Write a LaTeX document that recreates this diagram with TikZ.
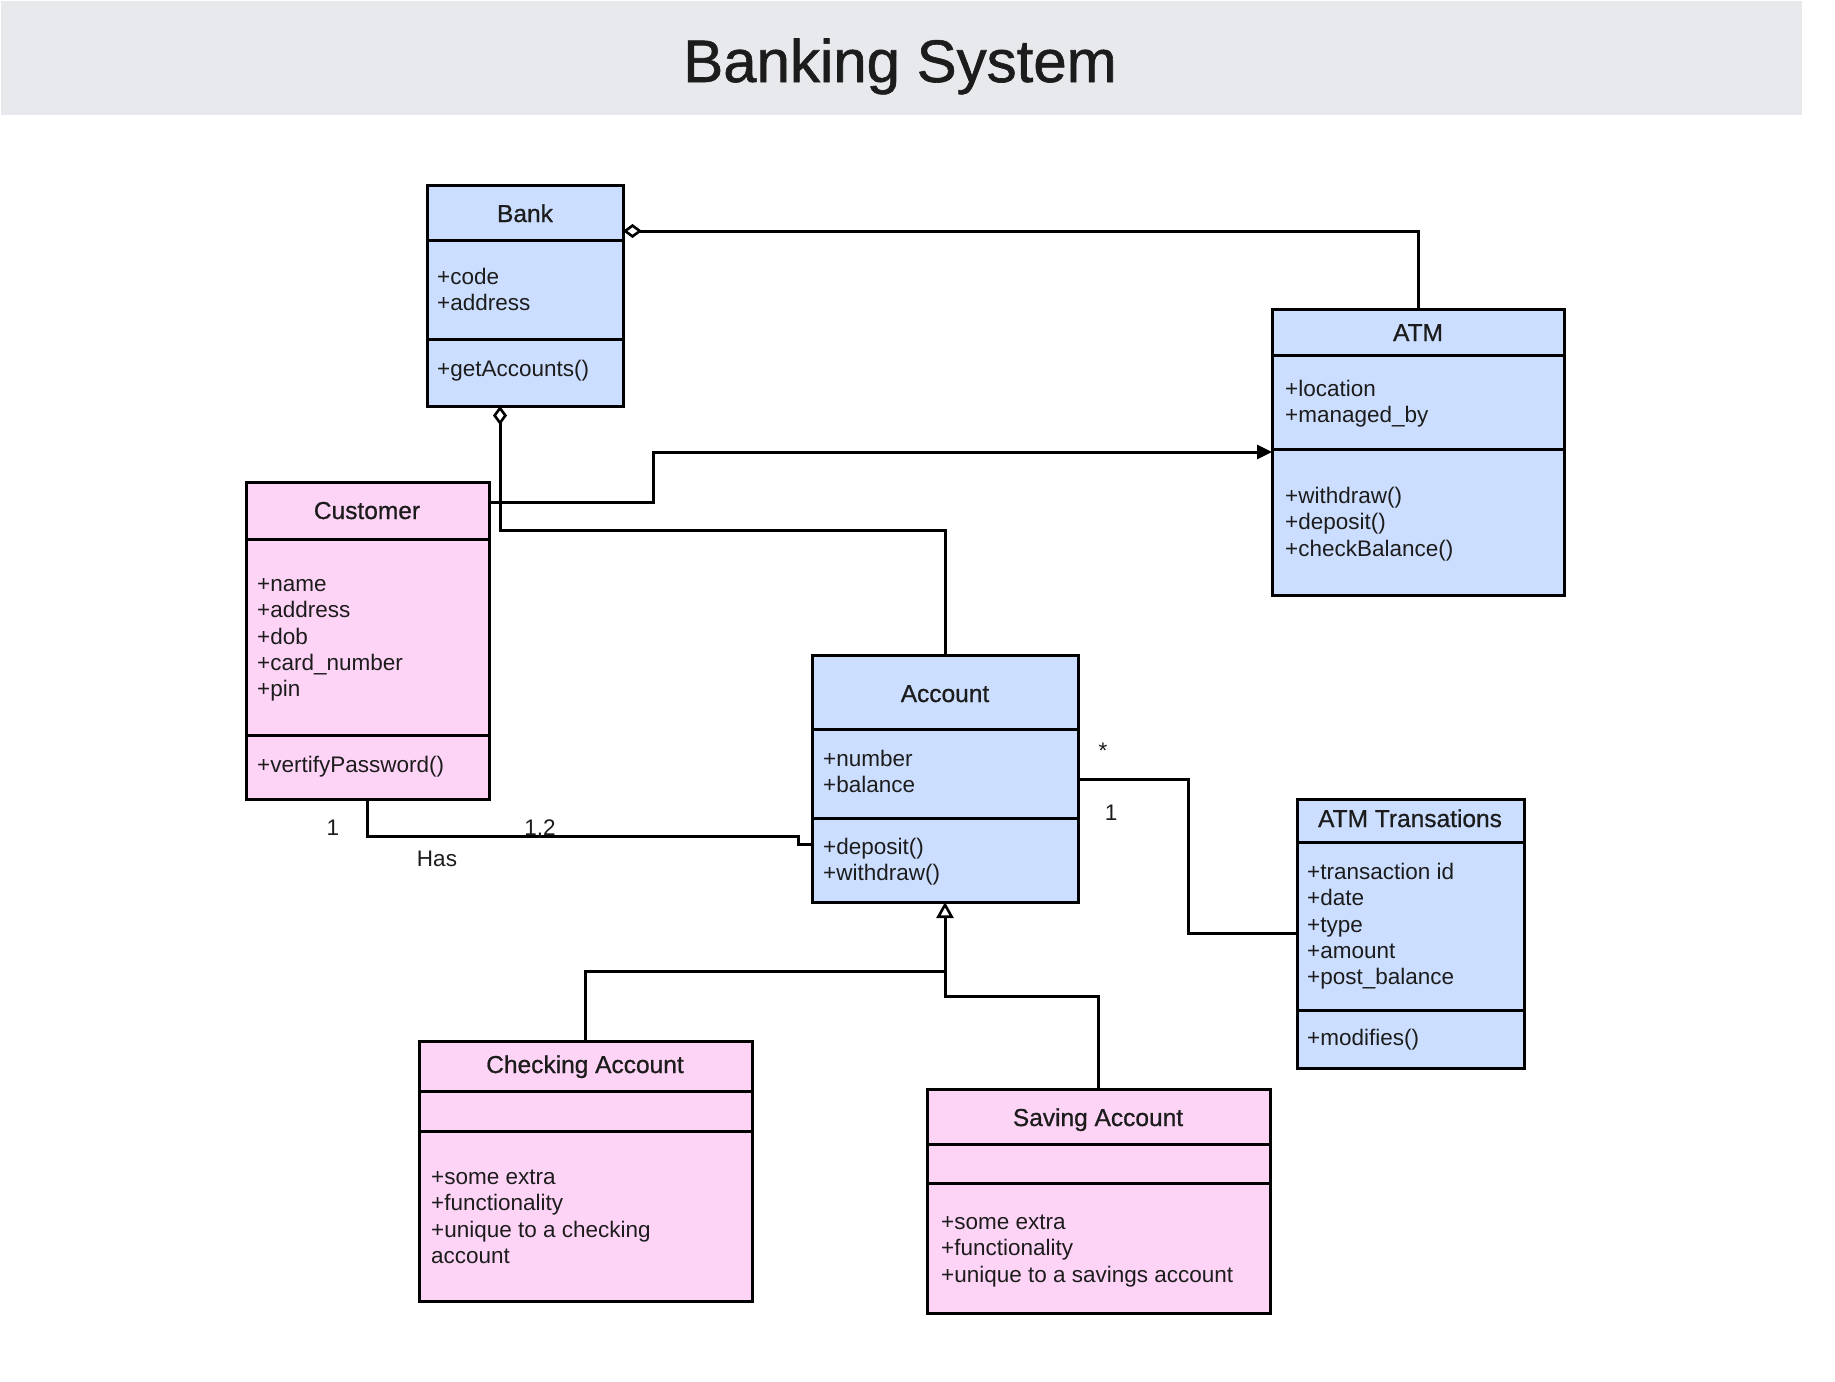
\documentclass[tikz,border=0pt]{standalone}
\usepackage{fontspec}
\setmainfont{Liberation Sans}
\usetikzlibrary{arrows.meta}
\definecolor{clsblue}{RGB}{204,222,255}
\definecolor{clspink}{RGB}{254,212,246}
\definecolor{band}{RGB}{232,233,237}
\definecolor{txt}{RGB}{28,28,28}
\newcommand\bodyf{\fontsize{22.5}{26.4}\selectfont}
\newcommand\headf{\fontsize{24.5}{30}\selectfont\addfontfeature{FakeBold=0.8}}
\newcommand\fl{\rule{0pt}{17pt}}
\begin{document}
\begin{tikzpicture}[x=1pt,y=-1pt,
  cls/.style={draw=black, line width=3pt, inner sep=0pt, outer sep=0pt},
  bluecls/.style={cls, fill=clsblue},
  pinkcls/.style={cls, fill=clspink},
  sep/.style={draw=black, line width=3pt},
  head/.style={font=\headf, anchor=base, text=txt, inner sep=0pt},
  body/.style={font=\bodyf, anchor=north west, align=left, inner sep=0pt, text=txt},
  conn/.style={draw=black, line width=3pt},
  lbl/.style={font=\bodyf, text=txt, inner sep=0pt, anchor=base},
  agg/.style={{Diamond[fill=white,length=19pt,width=14pt,line width=2.6pt]}-},
  navarrow/.style={-{Triangle[length=15pt,width=14pt]}},
  genarrow/.style={-{Triangle[fill=white,length=16pt,width=17pt,line width=2.6pt]}}
]
\useasboundingbox (0,0) rectangle (1835,1381);
\fill[white] (0,0) rectangle (1835,1381);
\fill[band] (1,1) rectangle (1802,115);
\node[font=\fontsize{60}{72}\selectfont\addfontfeature{FakeBold=1}, anchor=base, text=txt, inner sep=0pt] (title) at (900,82) {Banking System};

% Bank
\node[bluecls, minimum width=196pt, minimum height=221pt] (bank) at (525,295.5) {};
\draw[sep] (bank.west |- 0,240) -- (bank.east |- 0,240);
\draw[sep] (bank.west |- 0,339) -- (bank.east |- 0,339);
\node[head] (bankT) at (525,222) {Bank};
\node[body] (bankA) at (437,267) {\fl+code\\+address};
\node[body] (bankM) at (437,359) {\fl+getAccounts()};

% ATM
\node[bluecls, minimum width=292pt, minimum height=286pt] (atm) at (1418,452) {};
\draw[sep] (atm.west |- 0,355) -- (atm.east |- 0,355);
\draw[sep] (atm.west |- 0,449) -- (atm.east |- 0,449);
\node[head] (atmT) at (1418,341) {ATM};
\node[body] (atmA) at (1285,379) {\fl+location\\+managed\_by};
\node[body] (atmM) at (1285,486) {\fl+withdraw()\\+deposit()\\+checkBalance()};

% Customer
\node[pinkcls, minimum width=243pt, minimum height=317pt] (cust) at (367.5,640.5) {};
\draw[sep] (cust.west |- 0,539) -- (cust.east |- 0,539);
\draw[sep] (cust.west |- 0,735) -- (cust.east |- 0,735);
\node[head] (custT) at (367,519) {Customer};
\node[body] (custA) at (257,574) {\fl+name\\+address\\+dob\\+card\_number\\+pin};
\node[body] (custM) at (257,755) {\fl+vertifyPassword()};

% Account
\node[bluecls, minimum width=266pt, minimum height=247pt] (acct) at (945,778.5) {};
\draw[sep] (acct.west |- 0,729) -- (acct.east |- 0,729);
\draw[sep] (acct.west |- 0,818) -- (acct.east |- 0,818);
\node[head] (acctT) at (945,702) {Account};
\node[body] (acctA) at (823,749) {\fl+number\\+balance};
\node[body] (acctM) at (823,837) {\fl+deposit()\\+withdraw()};

% ATM Transactions
\node[bluecls, minimum width=227pt, minimum height=269pt] (atmt) at (1410.5,933.5) {};
\draw[sep] (atmt.west |- 0,842) -- (atmt.east |- 0,842);
\draw[sep] (atmt.west |- 0,1010) -- (atmt.east |- 0,1010);
\node[head] (atmtT) at (1410,827) {ATM Transations};
\node[body] (atmtA) at (1307,862) {\fl+transaction id\\+date\\+type\\+amount\\+post\_balance};
\node[body] (atmtM) at (1307,1028) {\fl+modifies()};

% Checking Account
\node[pinkcls, minimum width=333pt, minimum height=260pt] (check) at (585.5,1171) {};
\draw[sep] (check.west |- 0,1091) -- (check.east |- 0,1091);
\draw[sep] (check.west |- 0,1131) -- (check.east |- 0,1131);
\node[head] (checkT) at (585,1073) {Checking Account};
\node[body] (checkM) at (431,1167) {\fl+some extra\\+functionality\\+unique to a checking\\account};

% Saving Account
\node[pinkcls, minimum width=343pt, minimum height=224pt] (save) at (1098.5,1201) {};
\draw[sep] (save.west |- 0,1144) -- (save.east |- 0,1144);
\draw[sep] (save.west |- 0,1183) -- (save.east |- 0,1183);
\node[head] (saveT) at (1098,1126) {Saving Account};
\node[body] (saveM) at (941,1212) {\fl+some extra\\+functionality\\+unique to a savings account};

% Connectors
\draw[conn, agg] (bank.east |- 0,231) -| (atm.north);
\draw[conn, agg] (bank.south -| 500,0) -- (500,530) -| (acct.north);
\draw[conn, navarrow] (cust.east |- 0,502) -- (653,502) -- (653,452) -- (atm.west |- 0,452);
\draw[conn] (cust.south) -- (367.5,836) -- (798,836) -- (798,844) -- (acct.west |- 0,844);
\draw[conn] (acct.east |- 0,779) -- (1188,779) -- (1188,933) -- (atmt.west |- 0,933);
\coordinate (gj) at (945,971);
\draw[conn, genarrow] (check.north) |- (gj) -- (acct.south);
\draw[conn] (save.north) |- (945,996) -- (gj);

% Labels
\node[lbl] (m1) at (333,835) {1};
\node[lbl] (m12) at (540,835) {1,2};
\node[lbl] (has) at (437,866) {Has};
\node[font=\bodyf, text=txt, inner sep=0pt] (mstar) at (1103,751) {*};
\node[lbl] (m1b) at (1111,820) {1};
\end{tikzpicture}
\end{document}
